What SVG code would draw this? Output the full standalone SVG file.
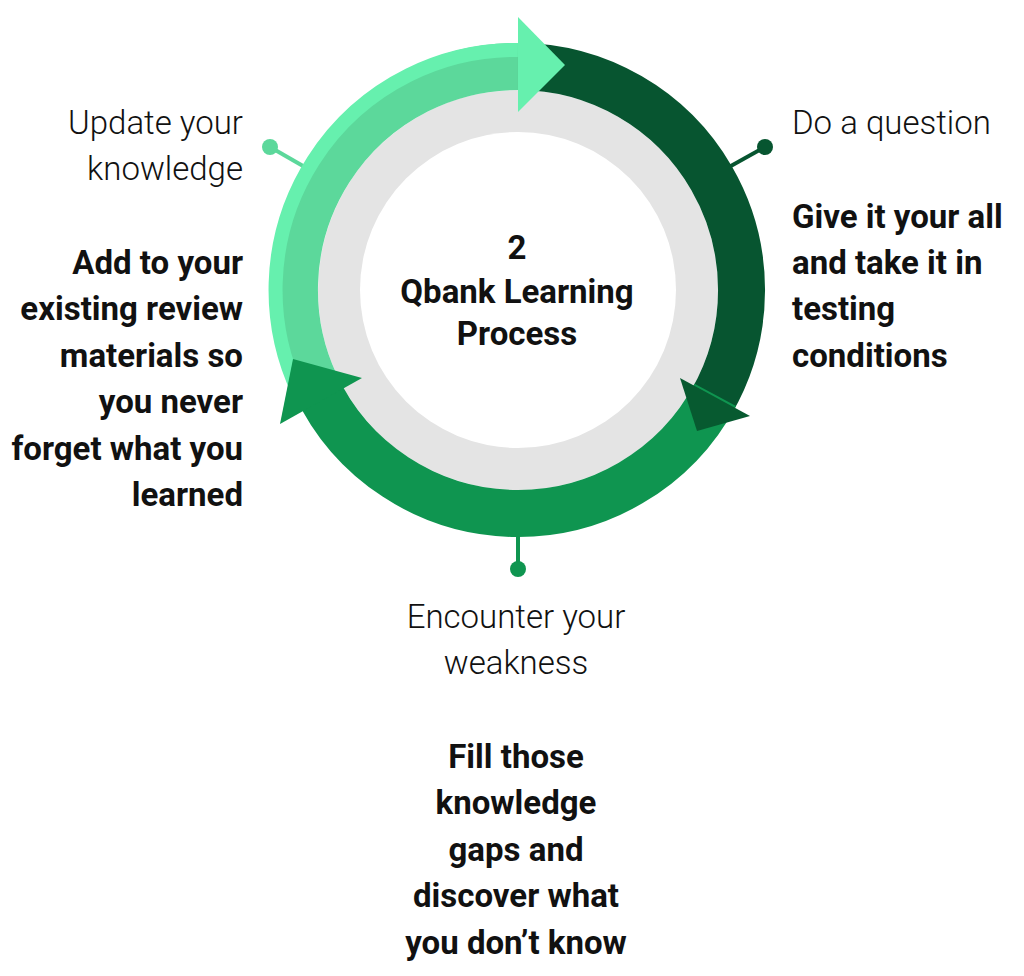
<svg xmlns="http://www.w3.org/2000/svg" width="1024" height="976" viewBox="0 0 1024 976">
<style>
.t{font-family:Roboto,"Liberation Sans",sans-serif;font-size:33px;fill:#111}
.l{font-weight:300}
.b{font-weight:700}
.r{text-anchor:end}
.m{text-anchor:middle}
.seg{fill:none;stroke-width:47}
</style>
<rect width="1024" height="976" fill="#fff"/>
<g id="hub">
<circle cx="518" cy="290" r="200" fill="#e4e4e4"/>
<circle cx="518" cy="290" r="158" fill="#fff"/>
<text class="t b m" x="517" y="259" font-size="29">2</text>
<text class="t b m" x="517" y="303" font-size="29">Qbank Learning</text>
<text class="t b m" x="517" y="345" font-size="29">Process</text>
</g>
<g id="connectors">
<line x1="270" y1="147" x2="343" y2="189" stroke="#5cd89b" stroke-width="4"/>
<circle cx="270" cy="147" r="8" fill="#5cd89b"/>
<line x1="765" y1="147" x2="695" y2="186" stroke="#075530" stroke-width="4"/>
<circle cx="765" cy="147" r="8" fill="#075530"/>
<line x1="518" y1="520" x2="518" y2="569" stroke="#0f9550" stroke-width="4"/>
<circle cx="518" cy="569" r="8" fill="#0f9550"/>
</g>
<g id="ring" transform="translate(518,290)">
<path class="seg" d="M -202.6 94.5 A 223.5 223.5 0 0 1 0 -223.5" stroke="#5cd89b"/>
<path fill="none" stroke-width="14" stroke="#66f0ae" d="M -219.5 102.4 A 240 240 0 0 1 0 -240"/>
<path class="seg" d="M 0 -223.5 A 223.5 223.5 0 0 1 193.6 111.75" stroke="#075530"/>
<path class="seg" d="M 197.3 104.9 A 223.5 223.5 0 0 1 -202.6 94.5" stroke="#0f9550"/>
</g>
<g id="arrowheads">
<polygon points="518,17 565,65 518,112" fill="#66f0ae"/>
<polygon points="680,378 750,416 697,431" fill="#075a30"/>
<polygon points="362,378 293,359 280,424" fill="#0f9550"/>
</g>
<g id="node-update">
<text class="t l r" x="243" y="134">Update your</text>
<text class="t l r" x="243" y="180">knowledge</text>
<text class="t b r" x="243" y="274">Add to your</text>
<text class="t b r" x="243" y="320">existing review</text>
<text class="t b r" x="243" y="367">materials so</text>
<text class="t b r" x="243" y="413">you never</text>
<text class="t b r" x="243" y="460">forget what you</text>
<text class="t b r" x="243" y="506">learned</text>
</g>
<g id="node-question">
<text class="t l" x="792" y="134">Do a question</text>
<text class="t b" x="792" y="228">Give it your all</text>
<text class="t b" x="792" y="274">and take it in</text>
<text class="t b" x="792" y="320">testing</text>
<text class="t b" x="792" y="367">conditions</text>
</g>
<g id="node-weakness">
<text class="t l m" x="516" y="628">Encounter your</text>
<text class="t l m" x="516" y="674">weakness</text>
<text class="t b m" x="516" y="768">Fill those</text>
<text class="t b m" x="516" y="814">knowledge</text>
<text class="t b m" x="516" y="861">gaps and</text>
<text class="t b m" x="516" y="907">discover what</text>
<text class="t b m" x="516" y="954">you don’t know</text>
</g>
</svg>
